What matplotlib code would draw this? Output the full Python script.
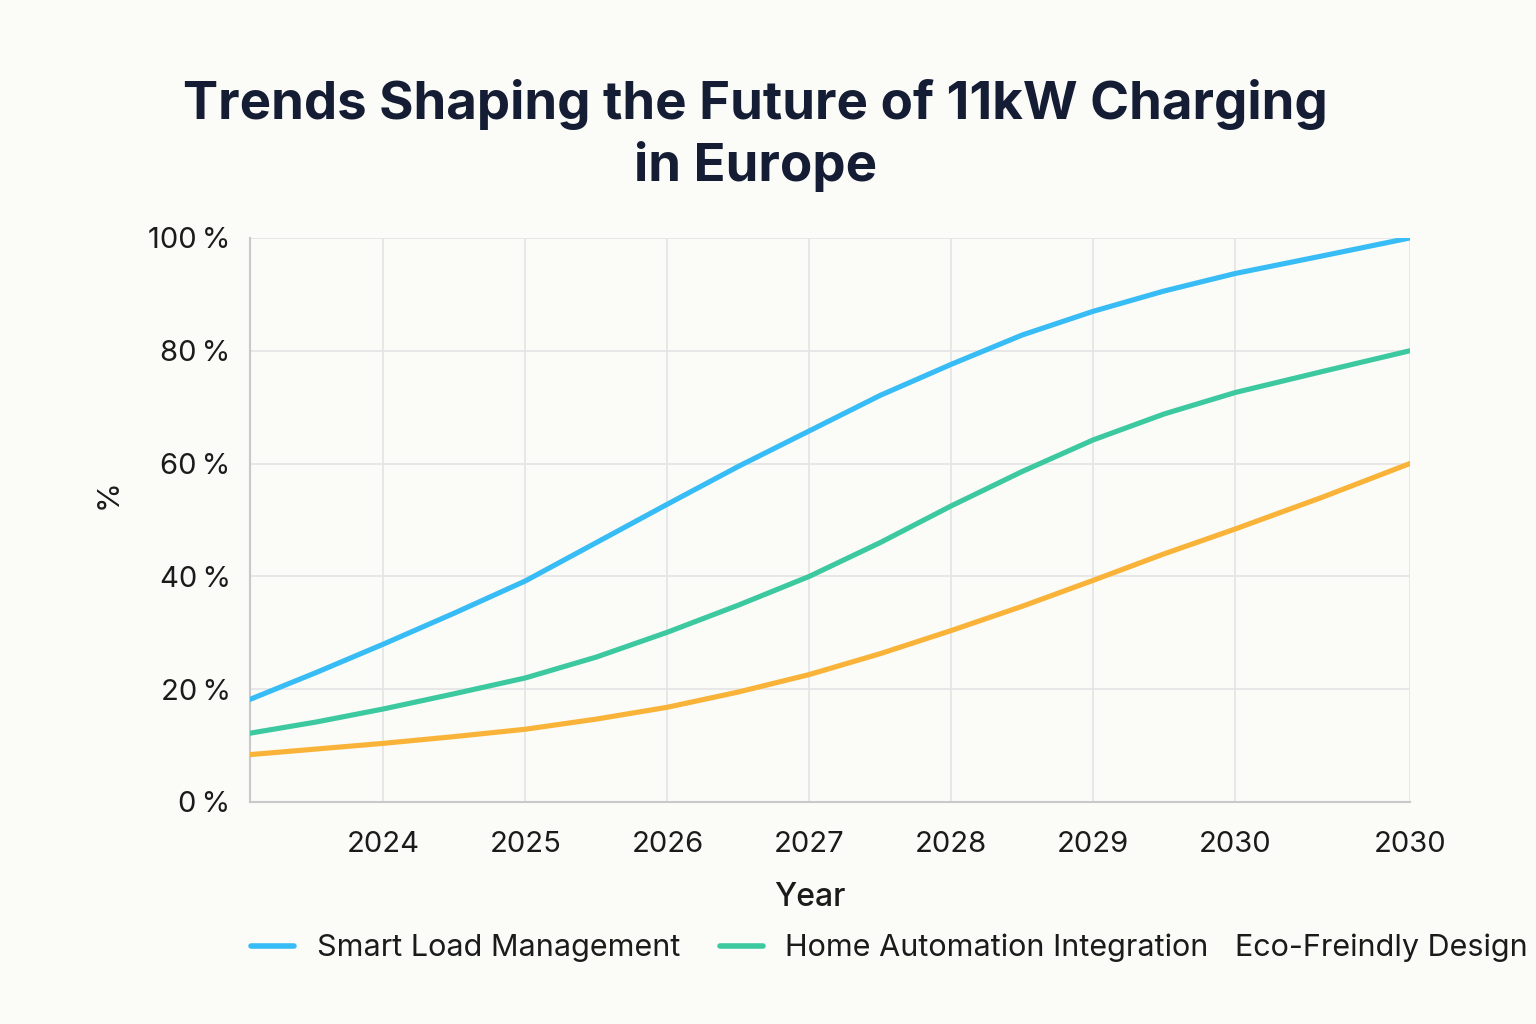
import matplotlib.pyplot as plt
from matplotlib.lines import Line2D

# x positions in "year" units (last tick is mislabelled 2030)
x = [2023.06, 2023.53, 2024, 2024.5, 2025, 2025.5, 2026, 2026.5, 2027, 2027.5,
     2028, 2028.5, 2029, 2029.5, 2030, 2030.61, 2031.23]
tick_pos = [2024, 2025, 2026, 2027, 2028, 2029, 2030, 2031.23]
tick_labels = ["2024", "2025", "2026", "2027", "2028", "2029", "2030", "2030"]

smart_load = [18.2, 23.0, 28.0, 33.5, 39.2, 46.0, 52.8, 59.5, 65.8, 72.1,
              77.6, 82.8, 87.0, 90.6, 93.7, 96.8, 100.0]
home_auto = [12.2, 14.2, 16.5, 19.2, 22.0, 25.7, 30.1, 34.9, 40.0, 46.0,
             52.5, 58.6, 64.2, 68.8, 72.6, 76.3, 80.0]
eco_design = [8.4, 9.4, 10.4, 11.6, 12.9, 14.7, 16.8, 19.5, 22.6, 26.3,
              30.4, 34.7, 39.3, 44.0, 48.4, 54.0, 60.0]

series_names = ["Smart Load Management", "Home Automation Integration", "Eco-Freindly Design"]
colors = ["#38bcf5", "#3cc9a0", "#f9b338"]

bg = "#fbfbf8"
plt.rcParams['font.family'] = ['Inter', 'DejaVu Sans']

fig = plt.figure(figsize=(15.36, 10.24), dpi=100, facecolor=bg)
ax = fig.add_axes([0.1628, 0.2168, 0.755, 0.5508])
ax.set_facecolor(bg)

for ys, c in zip([smart_load, home_auto, eco_design], colors):
    ax.plot(x, ys, color=c, lw=3.7, solid_capstyle="round", solid_joinstyle="round", zorder=3)

ax.set_xlim(x[0], x[-1])
ax.set_ylim(0, 100)
ax.set_xticks(tick_pos)
ax.set_xticklabels(tick_labels)
ax.set_yticks([0, 20, 40, 60, 80, 100])
ax.set_yticklabels(["%d\u2009%%" % v for v in [0, 20, 40, 60, 80, 100]])
ax.tick_params(length=0, labelsize=21, colors="#1b1b1b", pad=14)
ax.tick_params(axis="x", pad=21)
ax.grid(True, color="#e4e4e4", lw=1.2)
for side in ["top", "right"]:
    ax.spines[side].set_visible(False)
for side in ["left", "bottom"]:
    ax.spines[side].set_color("#c9c9c9")
    ax.spines[side].set_linewidth(1.5)

ax.set_xlabel("Year", fontsize=23, fontweight="medium", color="#1b1b1b")
ax.xaxis.set_label_coords(0.483, -0.142)
ax.set_ylabel("%", fontsize=22, color="#1b1b1b")
ax.yaxis.set_label_coords(-0.110, 0.546)

fig.text(0.492, 0.868, "Trends Shaping the Future of 11kW Charging\nin Europe",
         ha="center", va="center", fontsize=38, fontweight="bold", color="#141d33",
         linespacing=1.28)

# legend: the third entry has no line sample in the reference
handles = [Line2D([], [], color=colors[0], lw=4, solid_capstyle="round"),
           Line2D([], [], color=colors[1], lw=4, solid_capstyle="round")]
fig.legend(handles, series_names[:2], loc="center left", bbox_to_anchor=(251 / 1536, 0.0742),
           ncol=2, frameon=False, fontsize=22, handlelength=1.4, handletextpad=0.75,
           columnspacing=1.3, borderpad=0, borderaxespad=0, labelcolor="#1b1b1b")
fig.text(1235 / 1536, 0.0742, series_names[2], ha="left", va="center", fontsize=22,
         color="#1b1b1b")

fig.savefig("out.png", dpi=100, facecolor=bg)
